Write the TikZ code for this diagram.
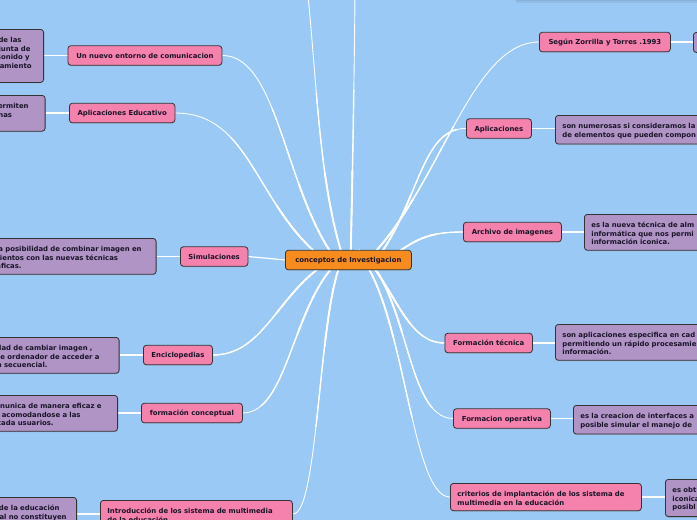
\documentclass[tikz,border=0pt]{standalone}
\usepackage{fontspec}
\setmainfont{DejaVu Sans}
\usetikzlibrary{backgrounds,shadows,calc}
\definecolor{skyblue}{RGB}{154,201,246}
\definecolor{pinkbox}{RGB}{245,129,173}
\definecolor{purplebox}{RGB}{176,148,198}
\definecolor{orangebox}{RGB}{247,140,30}
\definecolor{inktext}{RGB}{26,20,40}
\newcommand{\rgap}[1]{\rule{#1pt}{0pt}}
\newcommand{\mapcurves}{
	\draw[curveline] (nuevo.east) .. controls (280,55) and (285,200) .. ($(root)+(-8,5)$);
	\draw[curveline] (educ.east) .. controls (255,113) and (255,215) .. ($(root)+(-13,8)$);
	\draw[curveline] (encic.east) .. controls (268,355) and (278,285) .. ($(root)+(-8,-5)$);
	\draw[curveline] (concep.east) .. controls (290,413) and (292,295) .. ($(root)+(-3,-5)$);
	\draw[curveline] (intro.east) .. controls (320,515) and (318,290) .. ($(root)+(-3,-5)$);
	\draw[curveline] (topa) .. controls (318,100) and (320,190) .. ($(root)+(-3,5)$);
	\draw[curveline] (topb) .. controls (354,100) and (352,200) .. ($(root)+(2,5)$);
	\draw[curveline] (segun.west) .. controls (470,42) and (440,190) .. ($(root)+(17,2)$);
	\draw[curveline] (aplic.west) .. controls (420,128) and (420,205) .. ($(root)+(24,5)$);
	\draw[curveline] (archi.west) .. controls (430,232) and (415,238) .. ($(root)+(37,2)$);
	\draw[curveline] (tecni.west) .. controls (405,343) and (395,285) .. ($(root)+(10,-10)$);
	\draw[curveline] (opera.west) .. controls (405,418) and (410,290) .. ($(root)+(10,-10)$);
	\draw[curveline] (crite.west) .. controls (410,497) and (405,300) .. ($(root)+(7,-10)$);
}
\tikzset{
	mapnode/.style={draw=black!80,line width=0.8pt,rounded corners=3pt,text=inktext,font=\fontsize{6.9}{8.6}\bfseries\selectfont,inner ysep=6.3pt,inner xsep=7pt,drop shadow={opacity=0.35,shadow xshift=0pt,shadow yshift=-0.8pt}},
	rootbox/.style={mapnode,fill=orangebox,anchor=west,minimum height=19.5pt,text height=6pt,text depth=0.5pt},
	pinkitem/.style={mapnode,fill=pinkbox,anchor=west,minimum height=19.5pt,text height=6pt,text depth=0.5pt},
	wraptext/.style={inner ysep=5.6pt,execute at begin node={\rule{0pt}{7.4pt}}},
	pinkwide/.style={mapnode,wraptext,fill=pinkbox,anchor=north west,align=left},
	rightnote/.style={mapnode,wraptext,fill=purplebox,anchor=north west,align=left,text width=220pt},
	leftnote/.style={mapnode,wraptext,fill=purplebox,anchor=north east,align=right,inner xsep=0pt,text width=240pt},
	curveline/.style={draw=white,line width=0.9pt},
	stemline/.style={draw=white,line width=1.5pt}
}
\begin{document}
\begin{tikzpicture}[x=1pt,y=-1pt]
	\clip (0,0) rectangle (697,520);
	\node[rootbox,minimum width=126pt] (root) at (285,260) {conceptos de Investigacion};
	% left side
	\node[pinkitem,minimum width=154pt] (nuevo) at (67.5,55.5) {Un nuevo entorno de comunicacion};
	\node[pinkitem,minimum width=105.5pt] (educ) at (69,113) {Aplicaciones Educativo};
	\node[pinkitem,minimum width=67.5pt] (simul) at (180,256.5) {Simulaciones};
	\node[pinkitem,minimum width=69pt] (encic) at (143,355) {Enciclopedias};
	\node[pinkitem,minimum width=101pt] (concep) at (141,413) {formación conceptual};
	\node[pinkwide,text width=178pt] (intro) at (100,500) {Introducción de los sistema de multimedia\\de la educación};
	\node[leftnote] (nuevon) at (44,29) {de las\rgap{22}\\junta de\rgap{13}\\sonido y\rgap{14}\\amiento\rgap{12}\\\mbox{}};
	\node[leftnote] (educn) at (45.5,95) {ermiten\rgap{16.5}\\nas\rgap{33}\\\mbox{}};
	\node[leftnote] (simuln) at (156.5,238) {a posibilidad de combinar imagen en\rgap{14.5}\\dientos con las nuevas técnicas\rgap{38}\\aficas.\rgap{134.5}};
	\node[leftnote] (encicn) at (119.5,337) {lad de cambiar imagen ,\rgap{26.5}\\e ordenador de acceder a\rgap{19.5}\\n secuencial.\rgap{71.5}};
	\node[leftnote] (concepn) at (118,395) {nunica de manera eficaz e\rgap{16}\\acomodandose a las\rgap{37}\\cada usuarios.\rgap{64}};
	\node[leftnote] (intron) at (77,497) {de la educación\rgap{17}\\al no constituyen\rgap{10}\\\mbox{}};
	% right side
	\node[pinkitem,minimum width=131pt] (segun) at (539,42) {Según Zorrilla y Torres .1993};
	\node[pinkitem,minimum width=65pt] (aplic) at (466,128.5) {Aplicaciones};
	\node[pinkitem,minimum width=98pt] (archi) at (463,232) {Archivo de imagenes};
	\node[pinkitem,minimum width=87.5pt] (tecni) at (444.5,343) {Formación técnica};
	\node[pinkitem,minimum width=97pt] (opera) at (453,418.5) {Formacion operativa};
	\node[pinkwide,text width=177pt] (crite) at (450,483) {criterios de implantación de los sistema de\\multimedia en la educación};
	\node[rightnote,minimum height=20pt] (segunn) at (693,32) {};
	\node[rightnote] (aplicn) at (555,115) {son numerosas si consideramos la\\de elementos que pueden compon};
	\node[rightnote] (archin) at (584,214) {es la nueva técnica de alm\\informática que nos permi\\información iconica.};
	\node[rightnote] (tecnin) at (555,324) {son aplicaciones especifica en cad\\permitiendo un rápido procesamie\\información.};
	\node[rightnote] (operan) at (573,405) {es la creacion de interfaces a\\posible simular el manejo de};
	\node[rightnote] (criten) at (665,479) {es obt\\iconica\\posibl};
	\coordinate (topa) at (308,-5);
	\coordinate (topb) at (355,-5);
	\begin{scope}[on background layer]
		\fill[skyblue] (0,0) rectangle (697,520);
		% shadow of a box above the frame
		\fill[black,opacity=0.06] (516,0) rectangle (697,2.5);
		\fill[black,opacity=0.06] (516,0) rectangle (697,1);
		\mapcurves
		\begin{scope}
			\clip (root) circle (170);
			\tikzset{curveline/.style={draw=white,line width=1.4pt}}
			\mapcurves
		\end{scope}
		\begin{scope}
			\clip (root) circle (90);
			\tikzset{curveline/.style={draw=white,line width=1.9pt}}
			\mapcurves
		\end{scope}
		\draw[stemline,line width=1.2pt] (simul.east) -- (root.west);
		\foreach \a/\b in {nuevo/nuevon,educ/educn,simul/simuln,encic/encicn,concep/concepn,intro/intron}
			\draw[stemline] (\a.west) -- (\a.west -| \b.east);
		\foreach \a/\b in {segun/segunn,aplic/aplicn,archi/archin,tecni/tecnin,opera/operan,crite/criten}
			\draw[stemline] (\a.east) -- (\a.east -| \b.west);
	\end{scope}
\end{tikzpicture}
\end{document}
